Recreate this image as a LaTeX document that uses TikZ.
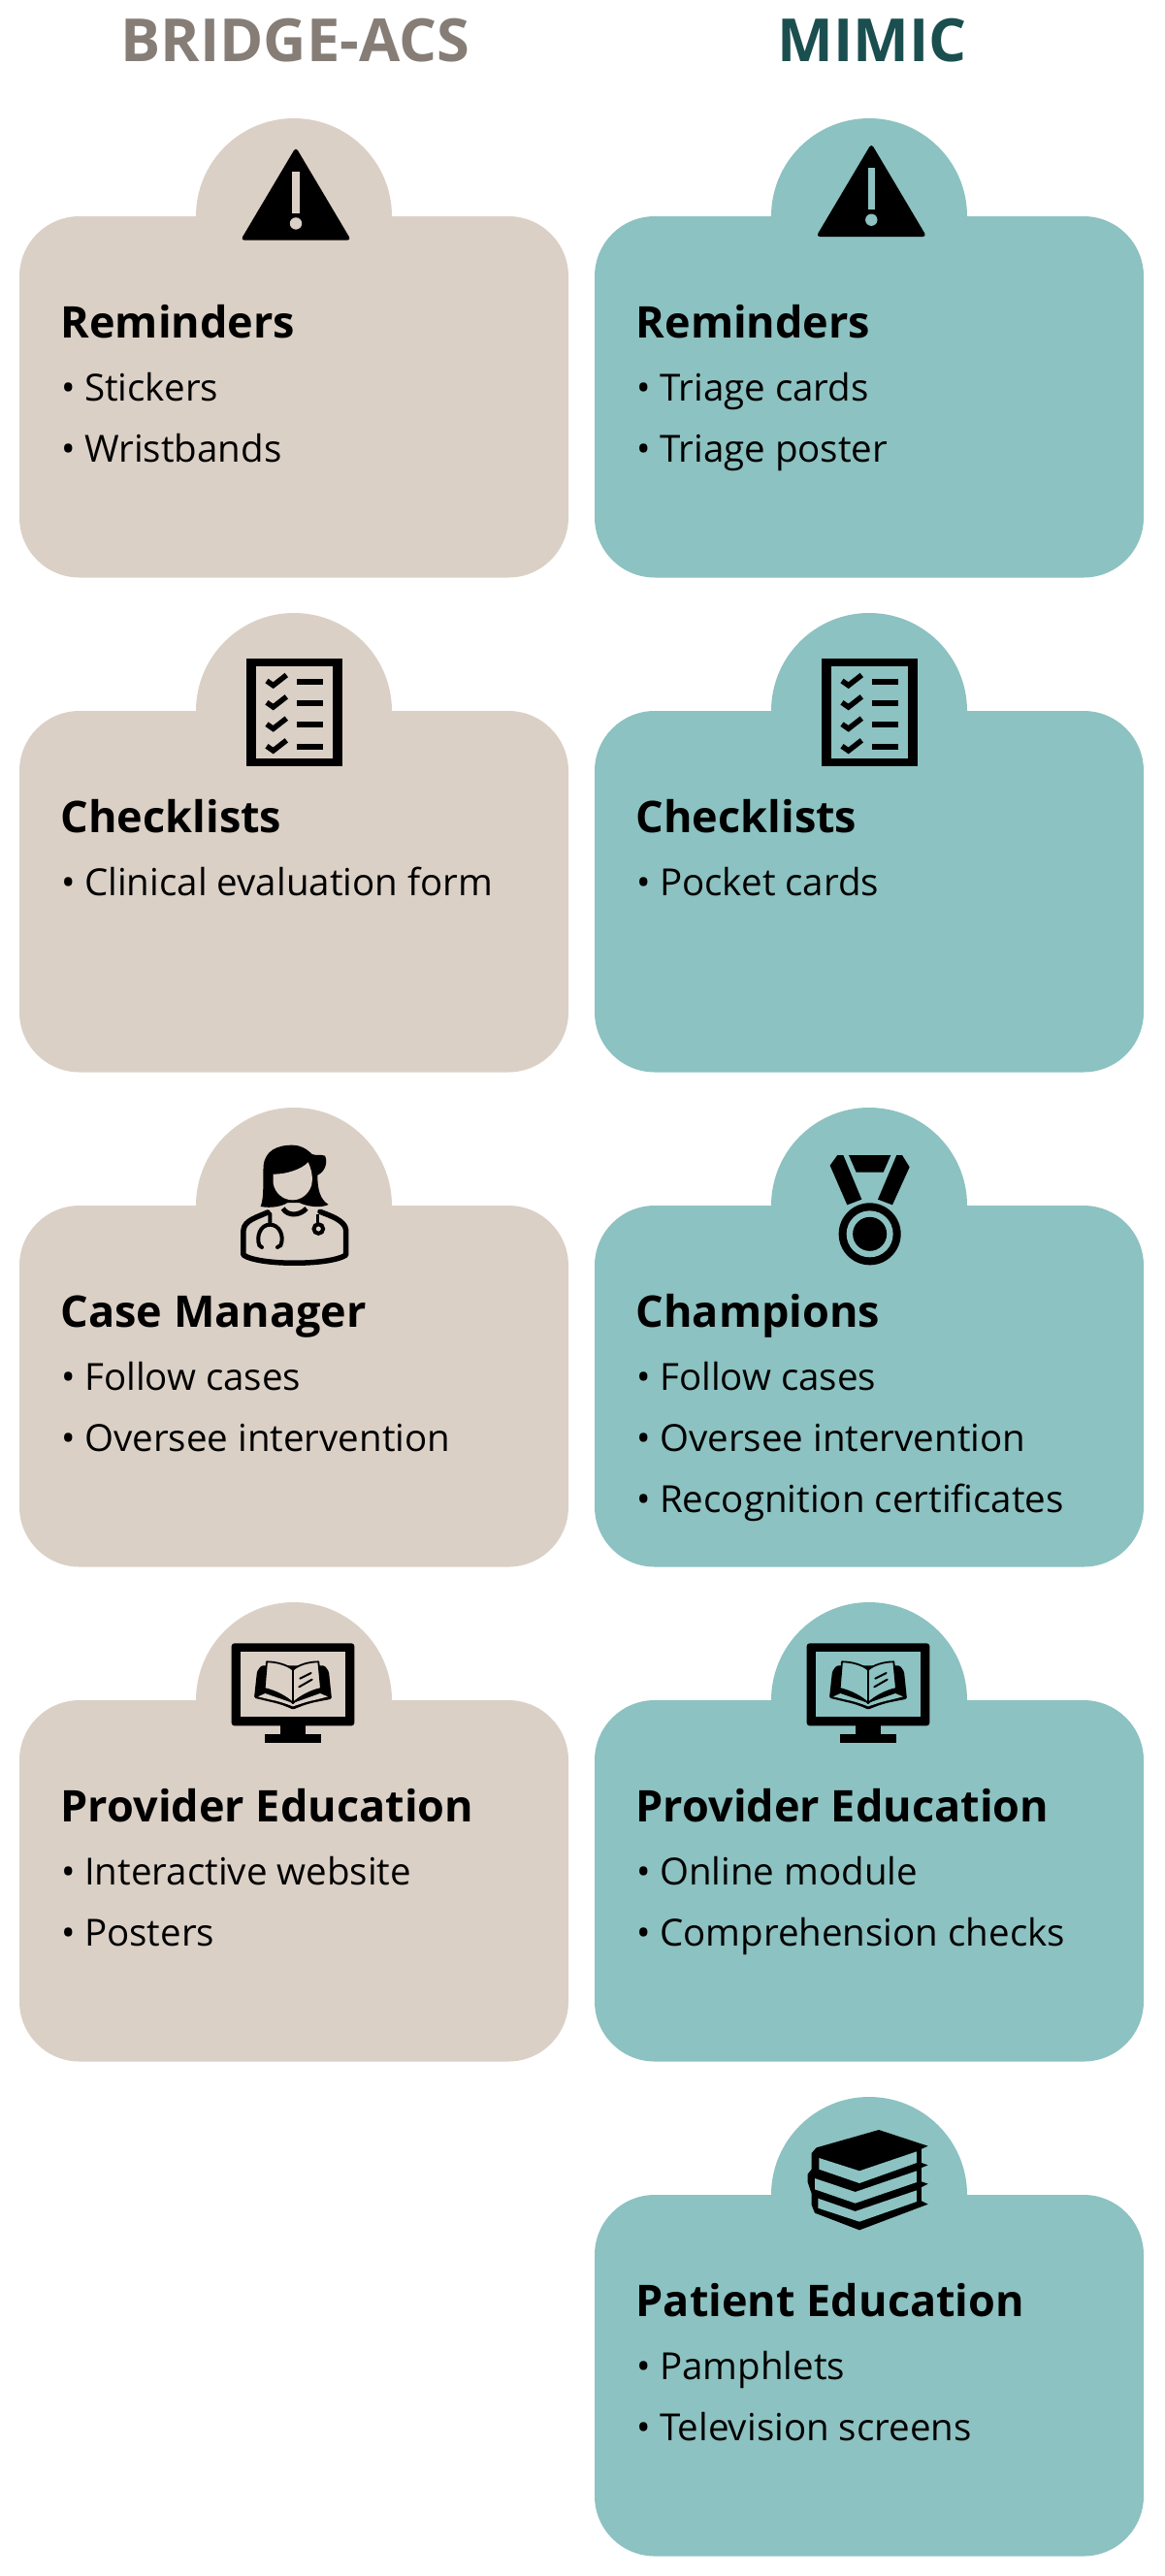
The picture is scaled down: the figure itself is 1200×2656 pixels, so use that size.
\documentclass[tikz,border=0pt]{standalone}
\usepackage{fontspec}
\setmainfont{Open Sans}
\definecolor{tan}{HTML}{DBD0C6}
\definecolor{teal2}{HTML}{8CC2C1}
\definecolor{headtan}{HTML}{857D76}
\definecolor{headteal}{HTML}{1B4F4F}
\tikzset{
  cardtitle/.style={anchor=base west,inner sep=0pt,font=\fontsize{45bp}{50bp}\selectfont\bfseries,text=black},
  carditem/.style={anchor=base west,inner sep=0pt,font=\fontsize{38.5bp}{46bp}\selectfont,text=black},
  head/.style={anchor=base,inner sep=0pt,font=\fontsize{61.3bp}{66bp}\selectfont\bfseries},
}
\newcommand{\itm}[1]{\makebox[24bp][l]{•}#1}
\newcommand{\cardshape}[3]{% cx, top, colour
  \fill[#3,rounded corners=62bp] (#1-283,#2) rectangle (#1+283,#2+372.5);
  \fill[#3] (#1,#2) circle[radius=101bp];
}
\newcommand{\iconwarn}[3]{% cx, top, colour
  \fill[black,rounded corners=4bp] (#1,#2-71) -- (#1+57,#2+25) -- (#1-57,#2+25) -- cycle;
  \fill[#3] (#1-3.8,#2-46) rectangle (#1+3.8,#2-3);
  \fill[#3] (#1,#2+7.7) circle[radius=6.2bp];
}
\newcommand{\iconcheck}[3]{%
  \begin{scope}[shift={(#1-113,#2-93)},x=.3333bp,y=-.3333bp]
  \fill[black] (192,117) rectangle (488,451);
  \fill[#3] (222,142) rectangle (458,427);
  \foreach \r in {188,255,322,390}{
    \draw[black,line width=5.5bp] (255,\r-2) -- (275,\r+12) -- (316,\r-20);
    \fill[black] (348,\r-9) rectangle (430,\r+9);
  }
  \end{scope}
}
\newcommand{\icondoc}[3]{%
  \begin{scope}[shift={(#1-113,#2-103)},x=.3333bp,y=-.3333bp]
  \fill[black] (335,122) .. controls (285,122) and (250,140) .. (245,185)
     .. controls (242,240) and (248,280) .. (236,312)
     .. controls (270,318) and (300,312) .. (320,300)
     -- (355,300) .. controls (380,312) and (420,318) .. (446,306)
     .. controls (420,290) and (412,260) .. (412,215)
     .. controls (435,205) and (445,175) .. (435,155)
     .. controls (420,150) and (405,155) .. (395,150)
     .. controls (375,130) and (355,122) .. (335,122) -- cycle;
  \fill[#3] (275,212) .. controls (320,212) and (365,195) .. (383,175)
     .. controls (395,200) and (398,225) .. (394,245)
     .. controls (385,275) and (360,292) .. (335,292)
     .. controls (305,292) and (280,270) .. (275,240) -- cycle;
  \draw[black,line width=5.5bp,line join=round,line cap=round]
    (258,330) .. controls (225,345) and (185,355) .. (183,385) -- (183,462)
    .. controls (230,495) and (450,495) .. (500,462) -- (500,385)
    .. controls (498,355) and (450,340) .. (420,328);
  \draw[black,line width=5bp] (305,318) .. controls (320,342) and (355,342) .. (378,318);
  \draw[black,line width=4bp,line cap=round] (265,335) -- (265,368)
    (240,438) -- (232,432) .. controls (222,405) and (235,368) .. (265,368)
    .. controls (295,368) and (310,405) .. (298,432) -- (288,438);
  \draw[black,line width=3bp] (414,335) -- (414,365);
  \draw[black,line width=4bp] (415,381) circle[radius=4.8bp];
  \end{scope}
}
\newcommand{\iconmedal}[3]{%
  \begin{scope}[shift={(#1-106.5,#2-103)},x=.3333bp,y=-.3333bp]
  \fill[black] (197,185) -- (220,153) -- (238,153) -- (295,290) -- (250,307) -- cycle;
  \fill[black] (443,190) -- (420,153) -- (403,153) -- (345,290) -- (390,307) -- cycle;
  \fill[black] (255,153) -- (385,153) -- (362,206) -- (278,206) -- cycle;
  \fill[black] (320,397) circle[radius=32bp];
  \fill[#3] (320,397) circle[radius=24bp];
  \fill[black] (320,397) circle[radius=17.5bp];
  \end{scope}
}
\newcommand{\iconscreen}[4]{% cx, top, colour, origin
  \begin{scope}[shift={(#1-#4,#2-93)},x=.3333bp,y=-.3333bp]
  \fill[black,rounded corners=3bp] (146,103) rectangle (526,358);
  \fill[#3] (173,130) rectangle (497,330);
  \fill[black] (296,355) rectangle (376,388);
  \fill[black] (250,385) rectangle (422,412);
  \fill[black,rounded corners=1.5bp] (238,172) -- (225,190) -- (216,272) -- (270,285)
     .. controls (300,292) and (320,300) .. (336,308)
     .. controls (355,300) and (375,292) .. (405,285) -- (456,275) -- (447,190) -- (434,172) -- cycle;
  \fill[#3] (228,268) -- (270,278) .. controls (300,284) and (320,292) .. (336,298)
     .. controls (355,292) and (375,284) .. (405,278) -- (444,268) -- (420,258)
     -- (336,288) -- (250,258) -- cycle;
  \filldraw[fill=#3,draw=black,line width=1.8bp,line join=round]
     (255,160) .. controls (285,160) and (320,170) .. (336,185)
     -- (336,288) .. controls (315,268) and (280,250) .. (248,243) -- cycle;
  \filldraw[fill=#3,draw=black,line width=1.8bp,line join=round]
     (415,160) .. controls (385,160) and (352,170) .. (336,185)
     -- (336,288) .. controls (357,268) and (390,250) .. (423,243) -- cycle;
  \draw[black,line width=2bp,line cap=round] (358,212) -- (392,195) (355,238) -- (395,215);
  \end{scope}
}
\newcommand{\iconbooks}[3]{%
  \begin{scope}[shift={(#1-106.5,#2-93)},x=.3333bp,y=-.3333bp]
  \fill[black] (348,78) -- (500,128) -- (480,137) -- (480,180) -- (500,187) -- (480,195) -- (480,238)
    -- (500,245) -- (480,255) -- (480,298) -- (500,308) -- (288,388) -- (150,335) -- (140,310) -- (140,275)
    -- (128,240) -- (128,215) -- (140,200) -- (140,150) -- (155,133) -- cycle;
  \fill[#3] (163,165) -- (288,205) -- (465,145) -- (465,180) -- (288,243) -- (163,200) -- cycle;
  \fill[#3] (150,228) -- (275,270) -- (465,205) -- (465,240) -- (275,305) -- (150,262) -- cycle;
  \fill[#3] (160,290) -- (275,330) -- (465,265) -- (465,300) -- (288,362) -- (160,320) -- cycle;
  \end{scope}
}
\begin{document}
\begin{tikzpicture}[x=1bp,y=-1bp]
\useasboundingbox (0,0) rectangle (1200,2656);
\fill[white] (0,0) rectangle (1200,2656);

\node[head,text=headtan] (hbridge) at (304.5,63) {BRIDGE-ACS};
\node[head,text=headteal] (hmimic) at (899,63) {MIMIC};

% cards
\foreach \t in {223,733,1243,1753}{\cardshape{303}{\t}{tan}}
\foreach \t in {223,733,1243,1753,2263}{\cardshape{896}{\t}{teal2}}

% icons
\iconwarn{305}{222.7}{tan}
\iconwarn{898.3}{219}{teal2}
\iconcheck{303}{733}{tan}
\iconcheck{896}{733}{teal2}
\icondoc{303}{1243}{tan}
\iconmedal{896.5}{1243}{teal2}
\iconscreen{303}{1753}{tan}{113}
\iconscreen{896}{1753}{teal2}{113}
\iconbooks{896.5}{2263}{teal2}

% left column text
\node[cardtitle] (a1) at (62.5,348) {Reminders};
\node[carditem] (a1a) at (63,413) {\itm{Stickers}};
\node[carditem] (a1b) at (63,476) {\itm{Wristbands}};
\node[cardtitle] (a2) at (62.5,858) {Checklists};
\node[carditem] (a2a) at (63,923) {\itm{Clinical evaluation form}};
\node[cardtitle] (a3) at (62.5,1368) {Case Manager};
\node[carditem] (a3a) at (63,1433) {\itm{Follow cases}};
\node[carditem] (a3b) at (63,1496) {\itm{Oversee intervention}};
\node[cardtitle] (a4) at (62.5,1878) {Provider Education};
\node[carditem] (a4a) at (63,1943) {\itm{Interactive website}};
\node[carditem] (a4b) at (63,2006) {\itm{Posters}};

% right column text
\node[cardtitle] (b1) at (655.5,348) {Reminders};
\node[carditem] (b1a) at (656,413) {\itm{Triage cards}};
\node[carditem] (b1b) at (656,476) {\itm{Triage poster}};
\node[cardtitle] (b2) at (655.5,858) {Checklists};
\node[carditem] (b2a) at (656,923) {\itm{Pocket cards}};
\node[cardtitle] (b3) at (655.5,1368) {Champions};
\node[carditem] (b3a) at (656,1433) {\itm{Follow cases}};
\node[carditem] (b3b) at (656,1496) {\itm{Oversee intervention}};
\node[carditem] (b3c) at (656,1559) {\itm{Recognition certificates}};
\node[cardtitle] (b4) at (655.5,1878) {Provider Education};
\node[carditem] (b4a) at (656,1943) {\itm{Online module}};
\node[carditem] (b4b) at (656,2006) {\itm{Comprehension checks}};
\node[cardtitle] (b5) at (655.5,2388) {Patient Education};
\node[carditem] (b5a) at (656,2453) {\itm{Pamphlets}};
\node[carditem] (b5b) at (656,2516) {\itm{Television screens}};
\end{tikzpicture}
\end{document}
